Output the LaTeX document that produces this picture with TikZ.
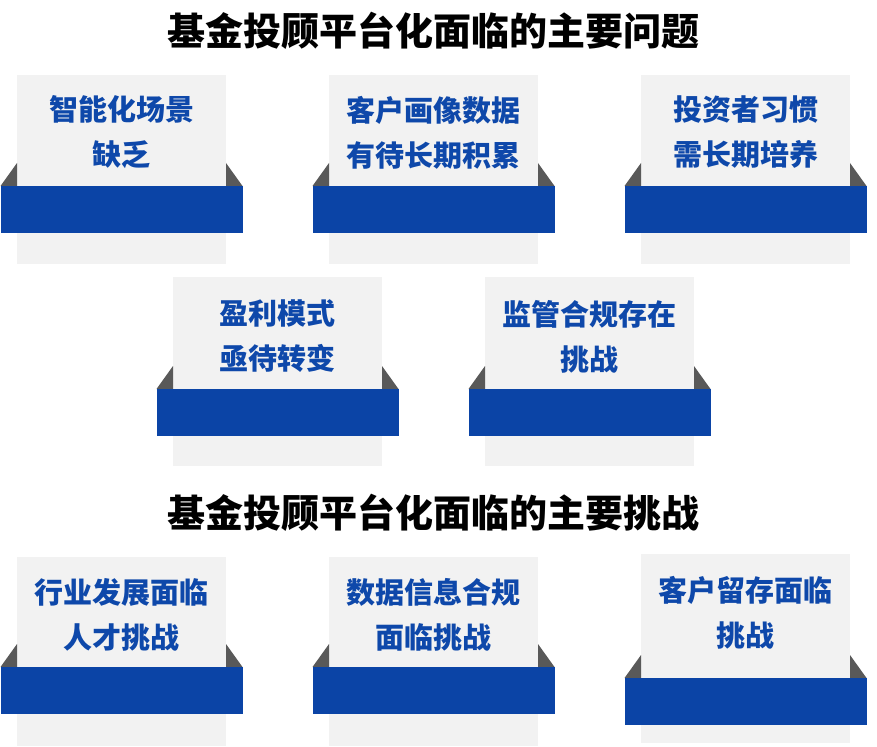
\documentclass[tikz,border=0pt]{standalone}
\usepackage{fontspec}
\newfontfamily\cjk{Noto Sans CJK SC}
\definecolor{bandblue}{RGB}{11,68,166}
\definecolor{txtblue}{RGB}{14,72,170}
\definecolor{cardgray}{RGB}{242,242,242}
\definecolor{foldgray}{RGB}{89,89,89}
\tikzset{
  cardbox/.style={fill=cardgray, draw=none, inner sep=0pt, minimum width=209pt, minimum height=189pt, anchor=north},
  bandbox/.style={fill=bandblue, draw=none, inner sep=0pt, minimum width=242pt, minimum height=47pt, anchor=north},
  fold/.style={fill=foldgray, draw=none},
  cardtext/.style={text=txtblue, font=\cjk\bfseries\fontsize{29}{45}\selectfont, align=center, inner sep=0pt},
  titletext/.style={text=black, font=\cjk\bfseries\fontsize{38}{40}\selectfont, inner sep=0pt}
}
% #1 name, #2 center x, #3 card top, #4 band top, #5 text center y, #6 text
\newcommand\fincard[6]{%
  \node[cardbox] (#1) at (#2,#3) {};
  \fill[fold] (#2-121,#4) -- (#2-104.5,#4) -- (#2-104.5,#4-23) -- cycle;
  \fill[fold] (#2+121,#4) -- (#2+104.5,#4) -- (#2+104.5,#4-23) -- cycle;
  \node[bandbox] (#1band) at (#2,#4) {};
  \node[cardtext] (#1text) at (#2,#5) {#6};
}
\begin{document}
\begin{tikzpicture}[x=1pt,y=-1pt]
\useasboundingbox (0,0) rectangle (877,746);
\node[titletext] (title1) at (433.5,31) {基金投顾平台化面临的主要问题};
\node[titletext] (title2) at (433.5,513) {基金投顾平台化面临的主要挑战};
\fincard{p1}{121.5}{75}{186}{132.5}{智能化场景\\缺乏}
\fincard{p2}{433.5}{75}{186}{132.5}{客户画像数据\\有待长期积累}
\fincard{p3}{745.5}{75}{186}{132.5}{投资者习惯\\需长期培养}
\fincard{p4}{277.5}{277}{389}{336.5}{盈利模式\\亟待转变}
\fincard{p5}{589.5}{277}{389}{336.5}{监管合规存在\\挑战}
\fincard{c1}{121.5}{557}{667}{614.5}{行业发展面临\\人才挑战}
\fincard{c2}{433.5}{557}{667}{614.5}{数据信息合规\\面临挑战}
\fincard{c3}{745.5}{554}{678}{612.5}{客户留存面临\\挑战}
\end{tikzpicture}
\end{document}
